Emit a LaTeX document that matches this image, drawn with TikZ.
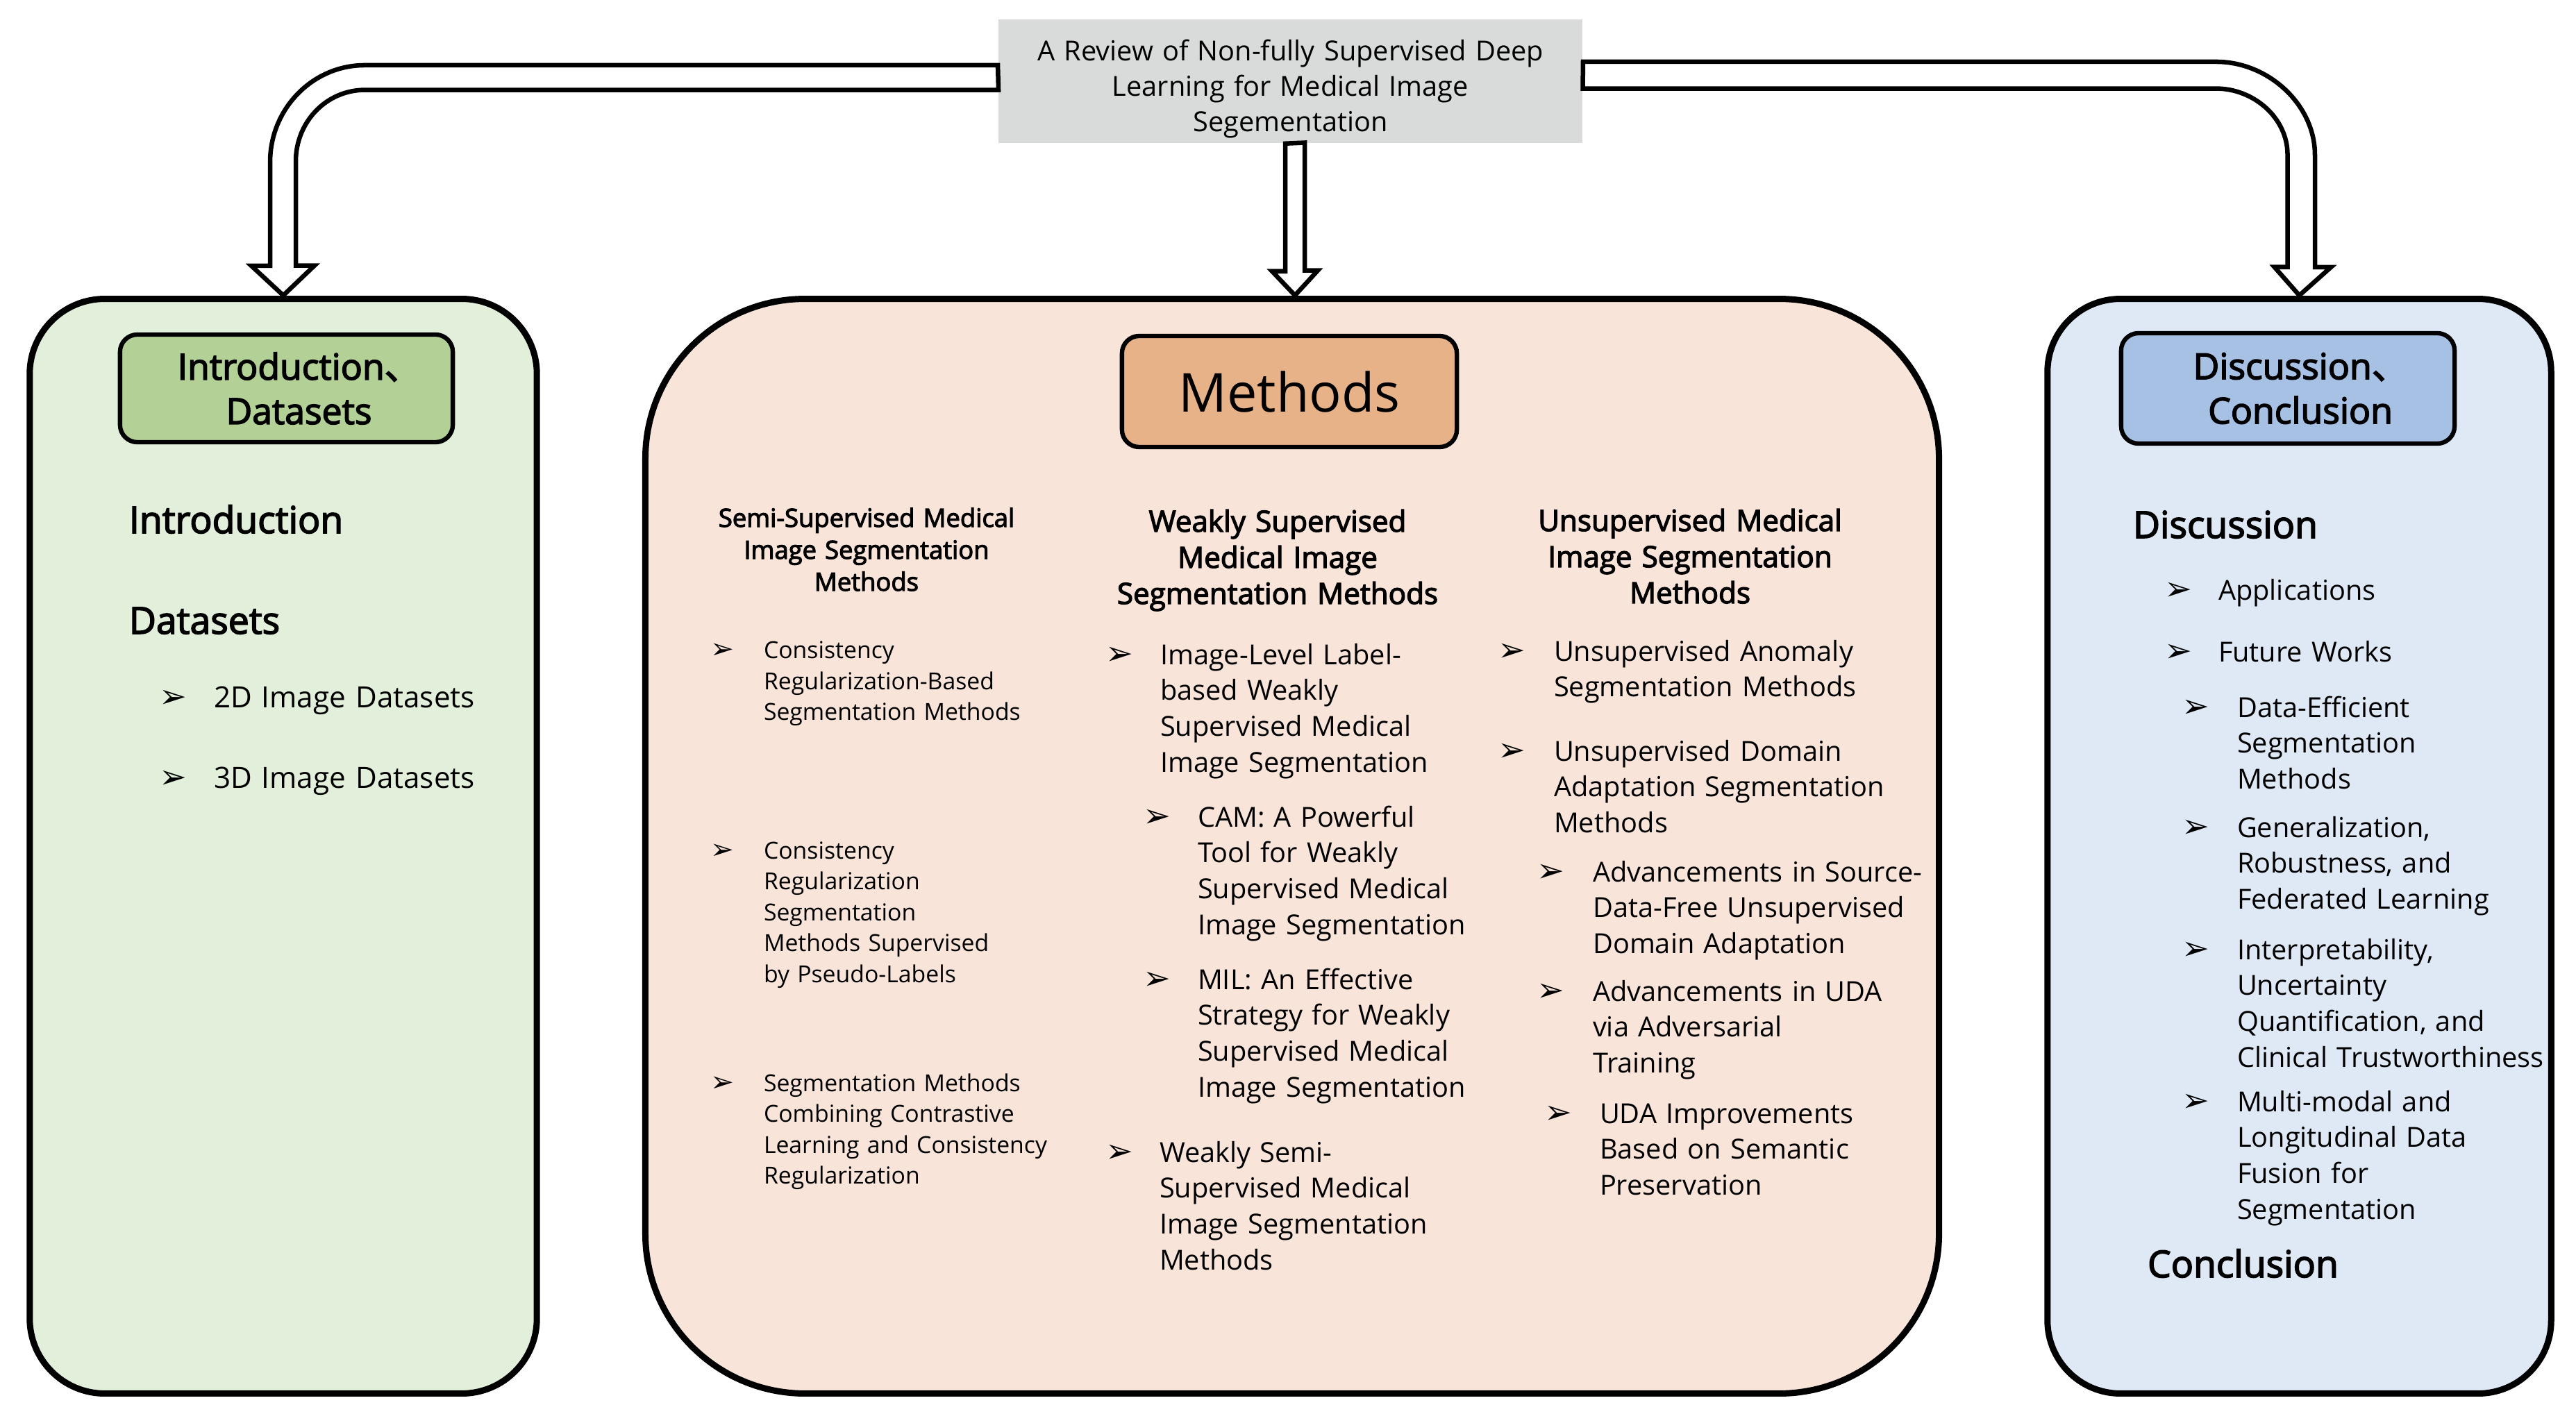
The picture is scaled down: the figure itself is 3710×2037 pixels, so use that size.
\documentclass[tikz,border=0pt]{standalone}
\usepackage{fontspec}
\setmainfont{Open Sans}[AutoFakeBold=3]
\newfontfamily\symf{DejaVu Sans}
\newfontfamily\cjkf{Noto Sans CJK SC}[AutoFakeBold=3]
\usetikzlibrary{calc}
\definecolor{cTitle}{HTML}{D9DADA}
\definecolor{gLight}{HTML}{E2EFDA}
\definecolor{gHead}{HTML}{B3D196}
\definecolor{pLight}{HTML}{F8E4D9}
\definecolor{oHead}{HTML}{E8B289}
\definecolor{bLight}{HTML}{DFE9F5}
\definecolor{bHead}{HTML}{A7C1E5}
\newcommand\ftitle{\fontsize{11.3}{14.4}\selectfont}
\newcommand\fhbox{\bfseries\fontsize{14.7}{18.2}\selectfont}
\newcommand\fmeth{\fontsize{22}{26}\selectfont}
\newcommand\fhead{\bfseries\fontsize{15.2}{17}\selectfont}
\newcommand\fleft{\fontsize{12}{14}\selectfont}
\newcommand\fsemit{\bfseries\fontsize{10.35}{13.1}\selectfont}
\newcommand\fsemi{\fontsize{9.6}{12.66}\selectfont}
\newcommand\fwkt{\bfseries\fontsize{12}{14.8}\selectfont}
\newcommand\fwk{\fontsize{11.3}{14.75}\selectfont}
\newcommand\bigbul{{\symf\fontsize{13.5}{14}\selectfont ➢}}
\newcommand\smbul{{\symf\fontsize{11.5}{12}\selectfont ➢}}
\newcommand\hsh{\hspace*{0.36cm}}
\begin{document}
\begin{tikzpicture}[x=0.01cm,y=-0.01cm,
  bigbox/.style={draw, line width=2.56pt, inner sep=0, outer sep=0},
  headbox/.style={draw, line width=1.8pt, rounded corners=0.25cm, inner sep=0, outer sep=0, align=center},
  hollow/.style={draw, fill=white, line width=1.85pt, line join=miter},
  txt/.style={anchor=base west, inner sep=0, outer sep=0, text width=10cm, align=left},
  ctitle/.style={anchor=base, inner sep=0, outer sep=0, text width=7cm, align=center},
  bul/.style={anchor=base west, inner sep=0, outer sep=0},
]
\fill[white] (0,0) rectangle (3710,2037);
\useasboundingbox (0,0) rectangle (3710,2037);

% title
\node[fill=cTitle, minimum width=8.41cm, minimum height=1.78cm, inner sep=0] (title) at (1858.5,117) {};
\node[ctitle, text width=8.4cm, font=\ftitle] (titletext) at (1858.5,88) {A Review of Non-fully Supervised Deep\\Learning for Medical Image\\Segementation};

% big boxes
\node[bigbox, fill=gLight, rounded corners=1.08cm, minimum width=7.30cm, minimum height=15.76cm] (intro) at (408,1219) {};
\node[bigbox, fill=pLight, rounded corners=2.3cm, minimum width=18.62cm, minimum height=15.76cm] (meth) at (1861,1219) {};
\node[bigbox, fill=bLight, rounded corners=1.05cm, minimum width=7.25cm, minimum height=15.76cm] (disc) at (3311.5,1219) {};

% hollow arrows
\draw[hollow] ([yshift=0.23cm]title.west) -- ++(-912,0)
  .. controls +(-75,0) and +(0,-76) .. ++(-136,139)
  -- ++(0,150) -- ++(-27,0) -- ([yshift=0.05cm]intro.north) -- ++(45,-43) -- ++(-27,0) -- ++(0,-150)
  .. controls +(0,-57) and +(-56,0) .. ++(100,-103)
  -- ++(912,0) -- cycle;
\draw[hollow] ([yshift=0.28cm]title.east) -- ++(912,0)
  .. controls +(75,0) and +(0,-72) .. ++(142,134)
  -- ++(0,162) -- ++(23,0) -- ([yshift=0.05cm]disc.north) -- ++(-36,-41) -- ++(19,0) -- ++(0,-162)
  .. controls +(0,-52) and +(55,0) .. ++(-103,-95)
  -- ++(-912,0) -- cycle;
\draw[hollow] ([xshift=-0.075cm]title.south) -- ++(0,184) -- ++(-19,0) -- ([xshift=0.04cm,yshift=0.05cm]meth.north) -- ++(33,-36) -- ++(-19,0) -- ++(0,-184) -- cycle;

% header boxes
\node[headbox, fill=gHead, minimum width=4.79cm, minimum height=1.55cm, font=\fhbox] (introh) at (412.5,559.5) {\hsh Introduction{\cjkf 、}\\\hsh Datasets};
\node[headbox, fill=oHead, minimum width=4.82cm, minimum height=1.60cm, font=\fmeth] (methh) at (1857,564) {Methods};
\node[headbox, fill=bHead, minimum width=4.80cm, minimum height=1.59cm, font=\fhbox] (disch) at (3295,559.5) {\hsh Discussion{\cjkf 、}\\\hsh Conclusion};

% left column
\node[txt, font=\fhead] (hintro) at (186,768) {Introduction};
\node[txt, font=\fhead] (hdata) at (186,913) {Datasets};
\node[bul, font=\fleft] (b2d) at (229,1019) {\bigbul};
\node[txt, font=\fleft] (t2d) at (308,1019) {2D Image Datasets};
\node[bul, font=\fleft] (b3d) at (229,1135) {\bigbul};
\node[txt, font=\fleft] (t3d) at (308,1135) {3D Image Datasets};

% semi-supervised column
\node[ctitle, font=\fsemit] (semi) at (1248,759) {Semi-Supervised Medical\\Image Segmentation\\Methods};
\node[bul, font=\fsemi] (bs1) at (1023,948.5) {\smbul};
\node[txt, font=\fsemi] (ts1) at (1100,948.5) {Consistency\\Regularization-Based\\Segmentation Methods};
\node[bul, font=\fsemi] (bs2) at (1023,1237) {\smbul};
\node[txt, font=\fsemi] (ts2) at (1100,1237) {Consistency\\Regularization\\Segmentation\\Methods Supervised\\by Pseudo-Labels};
\node[bul, font=\fsemi] (bs3) at (1023,1572) {\smbul};
\node[txt, font=\fsemi] (ts3) at (1100,1572) {Segmentation Methods\\Combining Contrastive\\Learning and Consistency\\Regularization};

% weakly supervised column
\node[ctitle, font=\fwkt] (weak) at (1840,766) {Weakly Supervised\\Medical Image\\Segmentation Methods};
\node[bul, font=\fwk] (bw1) at (1592,957) {\bigbul};
\node[txt, font=\fwk] (tw1) at (1671,957) {Image-Level Label-\\based Weakly\\Supervised Medical\\Image Segmentation};
\node[bul, font=\fwk] (bw2) at (1646,1191) {\bigbul};
\node[txt, font=\fwk] (tw2) at (1725,1191) {CAM: A Powerful\\Tool for Weakly\\Supervised Medical\\Image Segmentation};
\node[bul, font=\fwk] (bw3) at (1646,1425) {\bigbul};
\node[txt, font=\fwk] (tw3) at (1725,1425) {MIL: An Effective\\Strategy for Weakly\\Supervised Medical\\Image Segmentation};
\node[bul, font=\fwk] (bw4) at (1592,1674) {\bigbul};
\node[txt, font=\fwk] (tw4) at (1670,1674) {Weakly Semi-\\Supervised Medical\\Image Segmentation\\Methods};

% unsupervised column
\node[ctitle, font=\fwkt] (unsup) at (2434,765) {Unsupervised Medical\\Image Segmentation\\Methods};
\node[bul, font=\fwk] (bu1) at (2157,952) {\bigbul};
\node[txt, font=\fwk] (tu1) at (2238,952) {Unsupervised Anomaly\\Segmentation Methods};
\node[bul, font=\fwk] (bu2) at (2157,1096) {\bigbul};
\node[txt, font=\fwk] (tu2) at (2238,1096) {Unsupervised Domain\\Adaptation Segmentation\\Methods};
\node[bul, font=\fwk] (bu3) at (2213,1270) {\bigbul};
\node[txt, font=\fwk] (tu3) at (2294,1270) {Advancements in Source-\\Data-Free Unsupervised\\Domain Adaptation};
\node[bul, font=\fwk] (bu4) at (2213,1442) {\bigbul};
\node[txt, font=\fwk] (tu4) at (2294,1442) {Advancements in UDA\\via Adversarial\\Training};
\node[bul, font=\fwk] (bu5) at (2224,1618) {\bigbul};
\node[txt, font=\fwk] (tu5) at (2304,1618) {UDA Improvements\\Based on Semantic\\Preservation};

% discussion column
\node[txt, font=\fhead] (hdisc) at (3072,775) {Discussion};
\node[bul, font=\fwk] (bd1) at (3117,864) {\bigbul};
\node[txt, font=\fwk] (td1) at (3195,864) {Applications};
\node[bul, font=\fwk] (bd2) at (3117,953) {\bigbul};
\node[txt, font=\fwk] (td2) at (3195,953) {Future Works};
\node[bul, font=\fwk] (bd3) at (3142,1033) {\bigbul};
\node[txt, font=\fwk] (td3) at (3222,1033) {Data-Efficient\\Segmentation\\Methods};
\node[bul, font=\fwk] (bd4) at (3142,1206) {\bigbul};
\node[txt, font=\fwk] (td4) at (3222,1206) {Generalization,\\Robustness, and\\Federated Learning};
\node[bul, font=\fwk] (bd5) at (3142,1382) {\bigbul};
\node[txt, font=\fwk] (td5) at (3222,1382) {Interpretability,\\Uncertainty\\Quantification, and\\Clinical Trustworthiness};
\node[bul, font=\fwk] (bd6) at (3142,1601) {\bigbul};
\node[txt, font=\fwk] (td6) at (3222,1601) {Multi-modal and\\Longitudinal Data\\Fusion for\\Segmentation};
\node[txt, font=\fhead] (hconc) at (3093,1840) {Conclusion};
\end{tikzpicture}
\end{document}
